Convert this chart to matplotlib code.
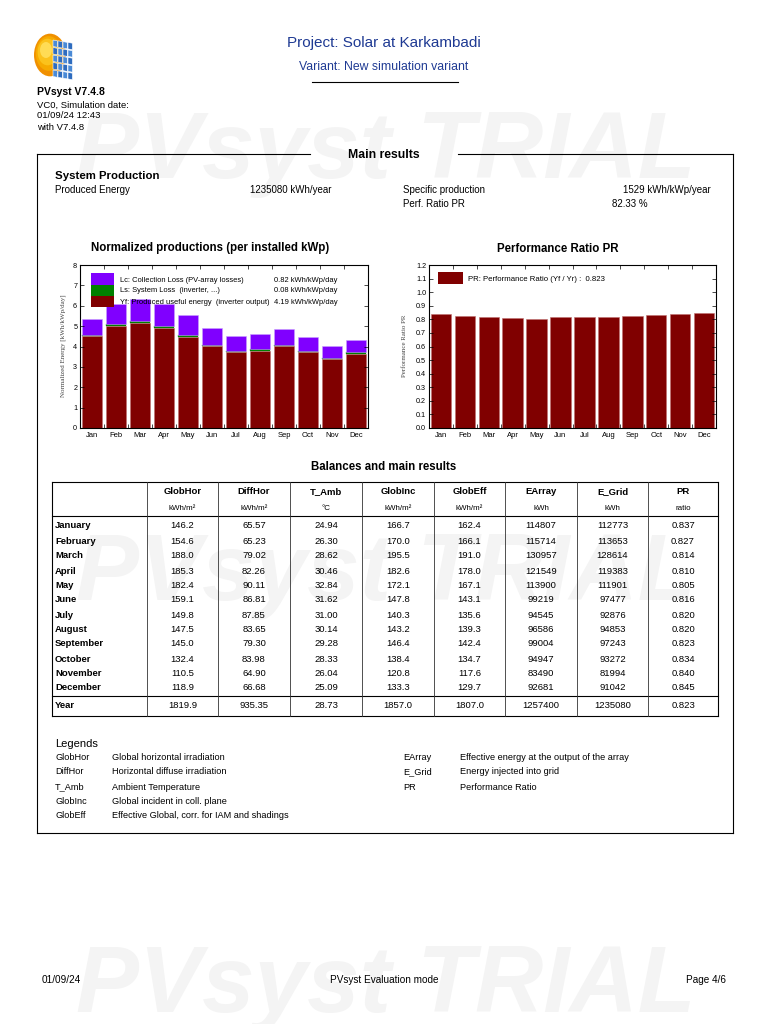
import numpy as np
import matplotlib
matplotlib.use("Agg")
import matplotlib.pyplot as plt
from matplotlib.patches import Rectangle, Circle, Polygon
from matplotlib.lines import Line2D

plt.rcParams['font.family'] = ['Liberation Sans', 'DejaVu Sans']

# Veriler (tablodan ve)
months = ["Jan", "Feb", "Mar", "Apr", "May", "Jun", "Jul", "Aug", "Sep", "Oct", "Nov", "Dec"]
yf = [4.50, 5.03, 5.14, 4.93, 4.47, 4.02, 3.71, 3.79, 4.01, 3.73, 3.38, 3.64]
ls = [0.08, 0.09, 0.09, 0.09, 0.08, 0.07, 0.07, 0.07, 0.07, 0.07, 0.06, 0.07]
lc = [0.79, 0.96, 1.08, 1.07, 1.00, 0.83, 0.75, 0.76, 0.79, 0.67, 0.58, 0.60]
pr = [0.837, 0.827, 0.814, 0.810, 0.805, 0.816, 0.820, 0.820, 0.823, 0.834, 0.840, 0.845]

row_names = ["January", "February", "March", "April", "May", "June", "July",
             "August", "September", "October", "November", "December"]
col_names = ["GlobHor", "DiffHor", "T_Amb", "GlobInc", "GlobEff", "EArray", "E_Grid", "PR"]
col_units = ["kWh/m²", "kWh/m²", "°C", "kWh/m²", "kWh/m²", "kWh", "kWh", "ratio"]
glob_hor = ["146.2", "154.6", "188.0", "185.3", "182.4", "159.1", "149.8", "147.5", "145.0", "132.4", "110.5", "118.9"]
diff_hor = ["65.57", "65.23", "79.02", "82.26", "90.11", "86.81", "87.85", "83.65", "79.30", "83.98", "64.90", "66.68"]
t_amb = ["24.94", "26.30", "28.62", "30.46", "32.84", "31.62", "31.00", "30.14", "29.28", "28.33", "26.04", "25.09"]
glob_inc = ["166.7", "170.0", "195.5", "182.6", "172.1", "147.8", "140.3", "143.2", "146.4", "138.4", "120.8", "133.3"]
glob_eff = ["162.4", "166.1", "191.0", "178.0", "167.1", "143.1", "135.6", "139.3", "142.4", "134.7", "117.6", "129.7"]
e_array = ["114807", "115714", "130957", "121549", "113900", "99219", "94545", "96586", "99004", "94947", "83490", "92681"]
e_grid = ["112773", "113653", "128614", "119383", "111901", "97477", "92876", "94853", "97243", "93272", "81994", "91042"]
pr_txt = ["0.837", "0.827", "0.814", "0.810", "0.805", "0.816", "0.820", "0.820", "0.823", "0.834", "0.840", "0.845"]
year_row = ["1819.9", "935.35", "28.73", "1857.0", "1807.0", "1257400", "1235080", "0.823"]

legend_left = [("GlobHor", "Global horizontal irradiation"),
               ("DiffHor", "Horizontal diffuse irradiation"),
               ("T_Amb", "Ambient Temperature"),
               ("GlobInc", "Global incident in coll. plane"),
               ("GlobEff", "Effective Global, corr. for IAM and shadings")]
legend_right = [("EArray", "Effective energy at the output of the array"),
                ("E_Grid", "Energy injected into grid"),
                ("PR", "Performance Ratio")]

W, H = 768, 1024
fig = plt.figure(figsize=(7.68, 10.24), dpi=100)


def fx(x):
    return x / W


def fy(y):
    return 1 - y / H


def txt(x, y, s, **kw):
    kw.setdefault("va", "center_baseline")
    kw.setdefault("fontsize", 7)
    fig.text(fx(x), fy(y), s, **kw)


def hline(x0, x1, y, lw=0.8, color="black"):
    fig.add_artist(Line2D([fx(x0), fx(x1)], [fy(y), fy(y)], lw=lw, color=color))


def vline(x, y0, y1, lw=0.8, color="black"):
    fig.add_artist(Line2D([fx(x), fx(x)], [fy(y0), fy(y1)], lw=lw, color=color))


def rect(x0, y0, x1, y1, color):
    fig.add_artist(Rectangle((fx(x0), fy(y1)), fx(x1) - fx(x0), fy(y0) - fy(y1),
                             facecolor=color, edgecolor="none"))


# Filigran
for yb in [178, 600, 1012]:
    fig.text(fx(386), fy(yb), "PVsyst TRIAL", fontsize=68, fontweight="bold",
             fontstyle="italic", color="#f4f4f4", ha="center", va="baseline", zorder=-5)

# Logo: gunes (basit gradyan) + panel izgarasi
for r, c in [(16, "#f09000"), (13, "#f6aa00"), (10, "#fbc21c"), (6, "#ffdc55")]:
    fig.add_artist(Circle((fx(50 - (16 - r) * 0.4), fy(55 - (16 - r) * 0.5)), r / W,
                          facecolor=c, edgecolor="none"))
for i in range(4):
    for j in range(5):
        x0 = 53 + i * 5
        y0 = 40 + j * 7.5 + i * 0.8
        fig.add_artist(Polygon([(fx(x0), fy(y0)), (fx(x0 + 4.4), fy(y0 + 0.8)),
                                (fx(x0 + 4.4), fy(y0 + 7.3)), (fx(x0), fy(y0 + 6.5))],
                               closed=True, facecolor="#2e6cbf" if (i + j) % 2 else "#4a8ad6",
                               edgecolor="white", lw=0.4))

# Baslik
txt(384, 42, "Project: Solar at Karkambadi", ha="center", fontsize=11, color="#1f3a93")
txt(384, 66, "Variant: New simulation variant", ha="center", fontsize=8.8, color="#1f3a93")
hline(312, 458, 82)
txt(37, 91, "PVsyst V7.4.8", fontsize=7.5, fontweight="bold")
txt(37, 104, "VC0, Simulation date:", fontsize=6.8)
txt(37, 115, "01/09/24 12:43", fontsize=6.8)
txt(37, 126, "with V7.4.8", fontsize=6.8)

# Ana kutu
hline(37, 310, 154)
hline(458, 733, 154)
hline(37, 733, 833)
vline(37, 154, 833)
vline(733, 154, 833)
txt(384, 153, "Main results", ha="center", fontsize=8.8, fontweight="bold")

txt(55, 175, "System Production", fontsize=8.2, fontweight="bold")
txt(55, 189, "Produced Energy")
txt(250, 189, "1235080 kWh/year")
txt(403, 189, "Specific production")
txt(711, 189, "1529 kWh/kWp/year", ha="right")
txt(403, 203, "Perf. Ratio PR")
txt(612, 203, "82.33 %")

txt(210, 247, "Normalized productions (per installed kWp)", ha="center", fontsize=8.3, fontweight="bold")
txt(558, 247, "Performance Ratio PR", ha="center", fontsize=8.3, fontweight="bold")

x = np.arange(len(months))


def style_axes(ax):
    ax.set_xlim(-0.5, 11.5)
    ax.set_xticks(x, months)
    ax.set_xticks(np.arange(-0.5, 12, 1), minor=True)
    ax.tick_params(axis="x", which="major", length=0, labelsize=5.5, pad=3)
    ax.tick_params(axis="x", which="minor", direction="in", top=True, bottom=True, length=3, width=0.5)
    ax.tick_params(axis="y", which="both", direction="in", left=True, right=True, labelsize=5.2,
                   length=3, width=0.5, pad=2)
    for sp in ax.spines.values():
        sp.set_linewidth(0.8)


# Sol grafik
ax1 = fig.add_axes([fx(80), fy(428), (368 - 80) / W, (428 - 265) / H])
yf_a = np.array(yf)
ls_a = np.array(ls)
ax1.bar(x, yf_a, width=0.86, color="#800000", edgecolor="#c07070", lw=0.4)
ax1.bar(x, ls_a, bottom=yf_a, width=0.86, color="#008000", edgecolor="#008000", lw=0.2)
ax1.bar(x, lc, bottom=yf_a + ls_a, width=0.86, color="#8000ff", edgecolor="#c9a0ff", lw=0.4)
ax1.set_ylim(0, 8)
ax1.set_yticks(range(0, 9))
style_axes(ax1)
fig.text(fx(63), fy(346), "Normalized Energy [kWh/kWp/day]", rotation=90, ha="center", va="center",
         fontsize=5, family="Liberation Serif", color="#444444")

rect(91, 273, 114, 285, "#8000ff")
rect(91, 285, 114, 296, "#008000")
rect(91, 296, 114, 307, "#800000")
txt(120, 279, "Lc: Collection Loss (PV-array losses)", fontsize=5.4)
txt(274, 279, "0.82 kWh/kWp/day", fontsize=5.4)
txt(120, 290, "Ls: System Loss  (inverter, ...)", fontsize=5.4)
txt(274, 290, "0.08 kWh/kWp/day", fontsize=5.4)
txt(120, 301, "Yf: Produced useful energy  (inverter output)", fontsize=5.4)
txt(274, 301, "4.19 kWh/kWp/day", fontsize=5.4)

# Sag grafik
ax2 = fig.add_axes([fx(429), fy(428), (716 - 429) / W, (428 - 265) / H])
ax2.bar(x, pr, width=0.86, color="#800000", edgecolor="#c07070", lw=0.4)
ax2.set_ylim(0, 1.2)
ax2.set_yticks(np.arange(0, 1.21, 0.1))
ax2.set_yticklabels([f"{v:.1f}" for v in np.arange(0, 1.21, 0.1)])
style_axes(ax2)
fig.text(fx(404), fy(346), "Performance Ratio PR", rotation=90, ha="center", va="center",
         fontsize=5, family="Liberation Serif", color="#444444")
rect(438, 272, 463, 284, "#800000")
txt(468, 278.5, "PR: Performance Ratio (Yf / Yr) :  0.823", fontsize=5.6)

# Tablo
txt(384, 466, "Balances and main results", ha="center", fontsize=8.3, fontweight="bold")
col_x = [52, 147, 218, 290, 362, 434, 505, 577, 648, 718]
t_top, t_head, t_year, t_bot = 482, 516, 696, 716
hline(col_x[0], col_x[-1], t_top)
hline(col_x[0], col_x[-1], t_head)
hline(col_x[0], col_x[-1], t_year)
hline(col_x[0], col_x[-1], t_bot)
for cx in col_x:
    edge = cx in (52, 718)
    vline(cx, t_top, t_bot, lw=0.8 if edge else 0.6, color="black" if edge else "#333333")

centers = [(col_x[i] + col_x[i + 1]) / 2 for i in range(1, 9)]
for c, name, unit in zip(centers, col_names, col_units):
    txt(c, 491, name, ha="center", fontsize=6.8, fontweight="bold")
    txt(c, 507, unit, ha="center", fontsize=5.8)

columns = [glob_hor, diff_hor, t_amb, glob_inc, glob_eff, e_array, e_grid, pr_txt]
row_y = [524, 540, 555, 570, 584, 599, 614, 628, 643, 658, 672, 687]
for r, (name, yy) in enumerate(zip(row_names, row_y)):
    txt(55, yy, name, fontsize=6.8, fontweight="bold")
    for c, col in zip(centers, columns):
        txt(c, yy, col[r], ha="center", fontsize=6.8)
txt(55, 705, "Year", fontsize=6.8, fontweight="bold")
for c, v in zip(centers, year_row):
    txt(c, 705, v, ha="center", fontsize=6.8)

# Aciklamalar
txt(55, 743, "Legends", fontsize=8)
leg_y = [757, 771, 786, 800, 815]
for (k, d), yy in zip(legend_left, leg_y):
    txt(55, yy, k, fontsize=6.6)
    txt(112, yy, d, fontsize=6.6)
for (k, d), yy in zip(legend_right, leg_y):
    txt(403, yy, k, fontsize=6.6)
    txt(460, yy, d, fontsize=6.6)

# Alt bilgi
txt(42, 979, "01/09/24", fontsize=7.2)
txt(384, 979, "PVsyst Evaluation mode", ha="center", fontsize=7.2)
txt(726, 979, "Page 4/6", ha="right", fontsize=7.2)

fig.savefig("out.png", dpi=100)
